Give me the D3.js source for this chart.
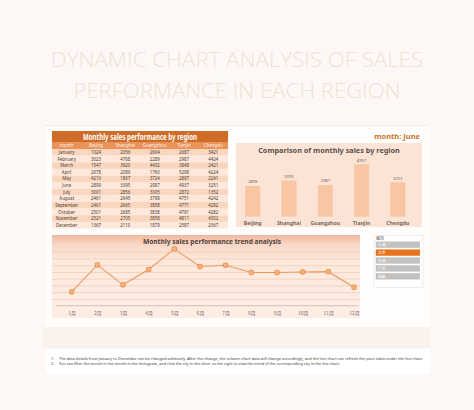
<!DOCTYPE html>
<html><head><meta charset="utf-8">
<script src="https://cdn.jsdelivr.net/npm/d3@7"></script>
<style>html,body{margin:0;padding:0;background:#fdf8f5;overflow:hidden}svg{display:block;font-family:"Noto Sans","Noto Sans CJK SC",sans-serif}</style>
</head><body><svg id="c" width="474" height="410"></svg>
<script>
// ---------- data ----------
const titleLines = ["DYNAMIC CHART ANALYSIS OF SALES", "PERFORMANCE IN EACH REGION"];
const months = ["January","February","March","April","May","June","July","August","September","October","November","December"];
const monthShort = ["1月","2月","3月","4月","5月","6月","7月","8月","9月","10月","11月","12月"];
const cities = ["Beijing","Shanghai","Guangzhou","Tianjin","Chengdu"];
const beijing   = [1024,3023,1547,2678,4210,2899,3001,2461,2461,2501,2521,1367];
const shanghai  = [2056,4768,3920,2089,1867,3395,2856,2645,2665,2685,2705,2110];
const guangzhou = [2604,2289,4432,1760,3724,2987,3005,3798,3858,3838,3858,1879];
const tianjin   = [2687,2987,3848,5298,2897,4937,2872,4751,4771,4791,4811,2587];
const chengdu   = [3421,4424,2421,4224,2241,3251,1352,4242,4292,4282,4302,2367];
const selectedMonth = "June";
const slicerTitle = "城市";
const slicerItems = ["上海","北京","天津","广州","成都"];
const selectedSlicer = "北京";
const notes = [
 "The data details from January to December can be changed arbitrarily. After the change, the column chart data will change accordingly, and the line chart can refresh the pivot table under the line chart.",
 "You can filter the month in the month in the histogram, and click the city in the slicer on the right to view the trend of the corresponding city in the line chart."
];
const tableTitle = "Monthly sales performance by region";
const barTitle = "Comparison of monthly sales by region";
const lineTitle = "Monthly sales performance trend analysis";

const series = {Beijing:beijing, Shanghai:shanghai, Guangzhou:guangzhou, Tianjin:tianjin, Chengdu:chengdu};
const mi = months.indexOf(selectedMonth);
const barData = cities.map(c => ({city:c, v:series[c][mi]}));
const lineValues = beijing;

const svg = d3.select("#c");
const defs = svg.append("defs");

// ---------- page ----------
svg.append("rect").attr("width",474).attr("height",410).attr("fill","#fdf8f5");
svg.selectAll("text.ttl").data(titleLines).join("text").attr("class","ttl")
  .attr("x",237).attr("y",(d,i)=>67+i*30.5).attr("text-anchor","middle")
  .attr("font-size",21).attr("font-weight",300).attr("font-family","'Open Sans','Noto Sans',sans-serif").attr("fill","#f0e0d4")
  .attr("textLength",(d,i)=>i?327:372).attr("lengthAdjust","spacingAndGlyphs").text(d=>d);

svg.append("line").attr("x1",45).attr("x2",428).attr("y1",125.5).attr("y2",125.5).attr("stroke","#f3ebe6");
svg.append("rect").attr("x",45).attr("y",126).attr("width",385).attr("height",201).attr("fill","#fffdfc");
svg.append("rect").attr("x",43).attr("y",327).attr("width",387).attr("height",21).attr("fill","#fcf2ed");
svg.append("rect").attr("x",45).attr("y",349).attr("width",385).attr("height",25).attr("fill","#ffffff");

// ---------- table ----------
const cols = ["month", ...cities];
const cx = d3.scaleBand().domain(cols).range([52,228]);
const ry = d3.scaleBand().domain(months).range([149,228.5]);
const tg = svg.append("g");
tg.append("rect").attr("x",52).attr("y",131).attr("width",176).attr("height",11).attr("fill","#cf6d28");
tg.append("text").attr("x",140).attr("y",139.6).attr("text-anchor","middle").attr("font-size",8).attr("font-weight","bold")
  .attr("fill","#fff").attr("textLength",114).attr("lengthAdjust","spacingAndGlyphs").text(tableTitle);
tg.append("rect").attr("x",52).attr("y",142).attr("width",176).attr("height",7).attr("fill","#e9935a");
tg.selectAll("text.h").data(cols).join("text").attr("class","h")
  .attr("x",d=>cx(d)+cx.bandwidth()/2).attr("y",147.3).attr("text-anchor","middle")
  .attr("font-size",4.4).attr("fill","#fdeee4").text(d=>d);
const rows = tg.selectAll("g.r").data(months).join("g").attr("class","r");
rows.append("rect").attr("x",52).attr("y",d=>ry(d)).attr("width",176).attr("height",ry.bandwidth())
  .attr("fill",(d,i)=>i%2?"#fde8db":"#f9d6bd");
rows.each(function(m,i){
  const vals=[m, ...cities.map(c=>series[c][i])];
  d3.select(this).selectAll("text").data(vals.map((v,j)=>({v,c:cols[j]}))).join("text")
    .attr("x",d=>cx(d.c)+cx.bandwidth()/2).attr("y",ry(m)+ry.bandwidth()/2+1.6)
    .attr("text-anchor","middle").attr("font-size",4.4).attr("fill","#4a4038").text(d=>d.v);
});

// ---------- bar chart ----------
svg.append("text").attr("x",420).attr("y",139).attr("text-anchor","end").attr("font-size",7.5).attr("font-weight","bold")
  .attr("fill","#c8742f").text("month:  "+selectedMonth);
svg.append("rect").attr("x",236).attr("y",143).attr("width",186).attr("height",84).attr("fill","#fbe4d5");
svg.append("text").attr("x",329).attr("y",152.5).attr("text-anchor","middle").attr("font-size",7.3).attr("font-weight","bold")
  .attr("fill","#5a514b").text(barTitle);
const bx = d3.scaleBand().domain(cities).range([234.55,416.05]).paddingInner(0.587).paddingOuter(0.2935);
const by = d3.scaleLinear().domain([0,6000]).range([216.7,153]);
const bg = svg.append("g");
bg.selectAll("rect").data(barData).join("rect").attr("x",d=>bx(d.city)).attr("width",bx.bandwidth())
  .attr("y",d=>by(d.v)).attr("height",d=>by(0)-by(d.v)).attr("fill","#f8c6a3");
bg.selectAll("text.v").data(barData).join("text").attr("class","v").attr("x",d=>bx(d.city)+bx.bandwidth()/2)
  .attr("y",d=>by(d.v)-2.5).attr("text-anchor","middle").attr("font-size",4.2).attr("fill","#6a5f58").text(d=>d.v);
const bax = svg.append("g").attr("transform","translate(0,216.7)").call(d3.axisBottom(bx).tickSize(0).tickPadding(5));
bax.select(".domain").remove();
bax.selectAll("text").attr("font-size",5.2).attr("font-weight","bold").attr("fill","#75695f").attr("font-family","Noto Sans");

// ---------- line chart ----------
const lg = defs.append("linearGradient").attr("id","lgbg").attr("x1",0).attr("y1",0).attr("x2",0).attr("y2",1);
lg.append("stop").attr("offset","0").attr("stop-color","#f1b89d");
lg.append("stop").attr("offset","0.12").attr("stop-color","#fad8c7");
lg.append("stop").attr("offset","0.3").attr("stop-color","#fce8dd");
lg.append("stop").attr("offset","1").attr("stop-color","#fdeee5");
svg.append("rect").attr("x",52).attr("y",235).attr("width",308).attr("height",83).attr("fill","url(#lgbg)");
svg.append("text").attr("x",212).attr("y",243.5).attr("text-anchor","middle").attr("font-size",6.6).attr("font-weight","bold")
  .attr("fill","#4f4640").text(lineTitle);
const lx = d3.scalePoint().domain(monthShort).range([71.7,354]);
const ly = d3.scaleLinear().domain([0,4000]).range([305.7,251.7]);
const grid = svg.append("g").attr("transform","translate(52,0)")
  .call(d3.axisLeft(ly).tickValues(d3.range(500,4001,500)).tickSize(-308).tickFormat(""));
grid.select(".domain").remove();
grid.selectAll("line").attr("stroke","#f3cdb7").attr("stroke-width",0.8);
const lax = svg.append("g").attr("transform","translate(0,305.7)").call(d3.axisBottom(lx).tickSize(0).tickPadding(6));
lax.select(".domain").remove();
svg.append("line").attr("x1",56).attr("x2",358).attr("y1",305.7).attr("y2",305.7).attr("stroke","#dcc8bc").attr("stroke-width",1.2);
lax.selectAll("text").attr("font-size",5).attr("fill","#7a6f68").attr("font-family","Noto Sans CJK SC");
const lineData = monthShort.map((m,i)=>({m, v:lineValues[i]}));
svg.append("path").datum(lineData).attr("fill","none").attr("stroke","#ec9a5c").attr("stroke-width",1.1)
  .attr("d",d3.line().x(d=>lx(d.m)).y(d=>ly(d.v)));
svg.append("g").selectAll("rect").data(lineData).join("rect")
  .attr("x",d=>lx(d.m)-2.2).attr("y",d=>ly(d.v)-2.2).attr("width",4.4).attr("height",4.4).attr("rx",1)
  .attr("fill","#f7b47c").attr("stroke","#e57f33").attr("stroke-width",0.7);

// ---------- slicer ----------
const sg = svg.append("g");
sg.append("rect").attr("x",374).attr("y",235.5).attr("width",49).attr("height",52).attr("fill","#fff").attr("stroke","#e6e0dc").attr("stroke-width",0.6);
sg.append("text").attr("x",376).attr("y",240).attr("font-size",4).attr("fill","#333").text(slicerTitle);
const sy = d3.scaleBand().domain(slicerItems).range([241.5,279.5]).paddingInner(0.2);
sg.selectAll("rect.it").data(slicerItems).join("rect").attr("class","it")
  .attr("x",375.7).attr("y",d=>sy(d)).attr("width",44.3).attr("height",sy.bandwidth())
  .attr("fill",d=>d===selectedSlicer?"#e8731f":"#c4c2c1");
sg.selectAll("text.it").data(slicerItems).join("text").attr("class","it")
  .attr("x",378).attr("y",d=>sy(d)+sy.bandwidth()/2+1.4).attr("font-size",3.8).attr("fill","#fff").text(d=>d);

// ---------- notes ----------
svg.selectAll("text.n").data(notes).join("text").attr("class","n")
  .attr("x",59).attr("y",(d,i)=>359.5+i*5.8).attr("font-size",3.9).attr("fill","#3f3a36")
  .attr("textLength",(d,i)=>i?281:364).attr("lengthAdjust","spacingAndGlyphs").text(d=>d);
svg.selectAll("text.nn").data(notes).join("text").attr("class","nn")
  .attr("x",51).attr("y",(d,i)=>359.5+i*5.8).attr("font-size",3.9).attr("fill","#3f3a36").text((d,i)=>(i+1)+".");
</script></body></html>
